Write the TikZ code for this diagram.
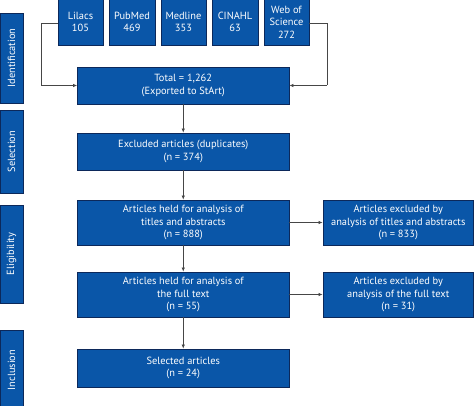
\documentclass[tikz,border=0pt]{standalone}
\usepackage{fontspec}
\setmainfont{PT Sans}
\usetikzlibrary{arrows.meta}
\definecolor{boxblue}{RGB}{10,86,168}
\definecolor{boxedge}{RGB}{12,40,90}
\definecolor{linegray}{RGB}{70,70,70}
\tikzset{
  bx/.style={draw=boxedge, line width=0.8pt, fill=boxblue, text=white, inner sep=0pt, align=center,
    font=\fontsize{10.4}{12.4}\selectfont},
  conn/.style={draw=linegray, line width=0.7pt, -{Latex[length=4pt,width=3.5pt]}},
  plain/.style={draw=linegray, line width=0.7pt},
}
\newcommand{\boxat}[6]{% name, x1, y1, x2, y2, text
  \node[bx, minimum width={#4-#2}, minimum height={#5-#3}] (#1) at ({(#2+#4)/2},{(#3+#5)/2}) {#6};}
\begin{document}
\begin{tikzpicture}[x=1pt,y=-1pt]
\useasboundingbox (0,0) rectangle (474,406);
% side boxes
\node[bx, minimum width=90, minimum height=23, rotate=90] (sid) at (11.5,58) {Identification};
\node[bx, minimum width=83, minimum height=23, rotate=90] (ssel) at (11.5,151.5) {Selection};
\node[bx, minimum width=98, minimum height=23, rotate=90] (selg) at (11.5,254) {Eligibility};
\node[bx, minimum width=80, minimum height=23, rotate=90] (sinc) at (11.5,370) {Inclusion};
% database boxes
\boxat{lil}{58}{-1}{103}{45}{Lilacs\\105}
\boxat{pub}{109}{-1}{155}{45}{PubMed\\469}
\boxat{med}{161}{-1}{206}{45}{Medline\\353}
\boxat{cin}{212}{-1}{258}{45}{CINAHL\\63}
\boxat{wos}{264}{-1}{309}{45}{Web of\\Science\\272}
% main column
\boxat{tot}{77.5}{67}{289}{104}{Total = 1,262\\(Exported to StArt)}
\boxat{dup}{77.5}{133}{289}{170}{Excluded articles (duplicates)\\(n = 374)}
\boxat{held}{77.5}{200}{289}{245}{Articles held for analysis of\\titles and abstracts\\(n = 888)}
\boxat{full}{77.5}{272}{289}{317}{Articles held for analysis of\\the full text\\(n = 55)}
\boxat{sel}{77.5}{349}{289}{387}{Selected articles\\(n = 24)}
% right column
\boxat{exta}{323}{200}{473.5}{245}{Articles excluded by\\analysis of titles and abstracts\\(n = 833)}
\boxat{exft}{323}{272}{473.5}{317}{Articles excluded by\\analysis of the full text\\(n = 31)}
% connectors
\coordinate (la) at (41,23);
\coordinate (lb) at (41,85.5);
\coordinate (wa) at (327,23);
\coordinate (wb) at (327,85.5);
\draw[plain] (lil.west |- la) -- (la) -- (lb);
\draw[conn] (lb) -- (tot.west);
\draw[plain] (wos.east |- wa) -- (wa) -- (wb);
\draw[conn] (wb) -- (tot.east);
\draw[conn] (tot.south) -- (dup.north);
\draw[conn] (dup.south) -- (held.north);
\draw[conn] (held.south) -- (full.north);
\draw[conn] (full.south) -- (sel.north);
\draw[conn] (held.east) -- (exta.west);
\draw[conn] (full.east) -- (exft.west);
\end{tikzpicture}
\end{document}
